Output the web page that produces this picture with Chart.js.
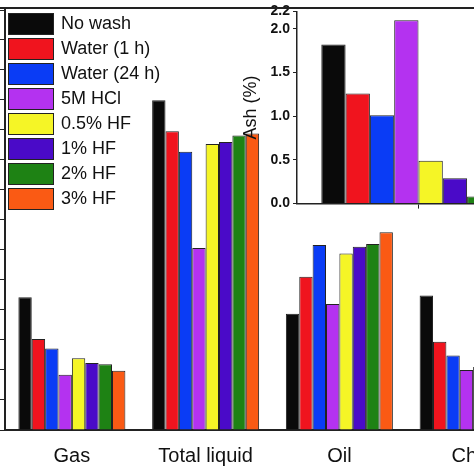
<!DOCTYPE html>
<html>
<head>
<script src="https://cdn.jsdelivr.net/npm/chart.js@4"></script>
<style>
  body { margin: 0; width: 474px; height: 474px; overflow: hidden; background: #fff; font-family: "Liberation Sans", Arial, sans-serif; position: relative; }
  #main { position: absolute; left: 0; top: 0; }
  #inset { position: absolute; left: 240px; top: 0; }
  #topline { position: absolute; left: 0; top: 7px; width: 474px; height: 2px; background: #222; }
  #legend { position: absolute; left: 8px; top: 11px; }
  .item { display: flex; align-items: center; height: 25px; font-size: 18px; color: #111; }
  .box { width: 44px; height: 20px; border: 1px solid #222; margin-right: 7px; }
</style>
</head>
<body>
<canvas id="main" width="540" height="474" style="width:540px;height:474px"></canvas>
<canvas id="inset" width="300" height="215" style="width:300px;height:215px"></canvas>
<div id="topline"></div>
<div id="legend"></div>
<script>
const categories = ["Gas", "Total liquid", "Oil", "Char"];
const treatments = ["No wash", "Water (1 h)", "Water (24 h)", "5M HCl", "0.5% HF", "1% HF", "2% HF", "3% HF"];
const colors = ["#0a0a0a", "#f0141e", "#0a3cf5", "#b432f0", "#f5f526", "#4a0ac8", "#1e8214", "#fa5a14"];
// yield values per treatment (in tick units), order: Gas, Total liquid, Oil, Char
const noWash = [4.42, 10.97, 3.87, 4.48];
const water1h = [3.03, 9.94, 5.10, 2.94];
const water24h = [2.71, 9.26, 6.16, 2.48];
const hcl5M = [1.84, 6.06, 4.19, 2.00];
const hf05 = [2.39, 9.52, 5.87, 2.10];
const hf1 = [2.23, 9.58, 6.10, 2.19];
const hf2 = [2.19, 9.80, 6.19, 2.05];
const hf3 = [1.97, 9.87, 6.58, 1.95];
const series = [noWash, water1h, water24h, hcl5M, hf05, hf1, hf2, hf3];
// ash content (%)
const ash = [1.82, 1.26, 1.01, 2.10, 0.49, 0.29, 0.08, 0.03];

const legend = document.getElementById("legend");
treatments.forEach((t, i) => {
  legend.innerHTML += `<div class="item"><div class="box" style="background:${colors[i]}"></div>${t}</div>`;
});

new Chart(document.getElementById("main"), {
  type: "bar",
  data: {
    labels: categories,
    datasets: series.map((d, i) => ({
      label: treatments[i], data: d, backgroundColor: colors[i],
      borderColor: "#222", borderWidth: 1, categoryPercentage: 0.8, barPercentage: 1,
    })),
  },
  options: {
    responsive: false, animation: false,
    layout: { padding: { top: 8 } },
    plugins: { legend: { display: false }, tooltip: { enabled: false } },
    scales: {
      x: {
        grid: { display: false },
        border: { color: "#222", width: 2 },
        ticks: { color: "#111", font: { size: 20, family: "Liberation Sans" }, padding: 6 },
      },
      y: {
        min: 0, max: 13.97,
        afterFit: (s) => { s.width = 5; },
        grid: { drawOnChartArea: false, tickLength: 5, color: "#222" },
        border: { color: "#222", width: 2 },
        ticks: { stepSize: 1, callback: () => "" },
      },
    },
  },
});

new Chart(document.getElementById("inset"), {
  type: "bar",
  data: {
    labels: ["Ash"],
    datasets: ash.map((v, i) => ({
      label: treatments[i], data: [v], backgroundColor: colors[i],
      borderColor: "#222", borderWidth: 1, categoryPercentage: 0.8, barPercentage: 1,
    })),
  },
  options: {
    responsive: false, animation: false,
    layout: { padding: { top: 8 } },
    plugins: { legend: { display: false }, tooltip: { enabled: false } },
    scales: {
      x: {
        afterFit: (s) => { s.height = 11; },
        grid: { drawOnChartArea: false, offset: false, tickLength: 5, color: "#222" },
        border: { color: "#222", width: 1.5 },
        ticks: { callback: () => "" },
      },
      y: {
        min: 0, max: 2.2,
        afterFit: (s) => { s.width = 57; },
        grid: { drawOnChartArea: false, tickLength: 4, color: "#222" },
        border: { color: "#222", width: 1.5 },
        title: { display: true, text: "Ash (%)", color: "#111", font: { size: 18, family: "Liberation Sans" }, padding: 0 },
        ticks: {
          stepSize: 0.5, color: "#111", padding: 3,
          font: { size: 14, weight: "bold", family: "Liberation Sans" },
          callback: (v) => v.toFixed(1),
        },
      },
    },
  },
  plugins: [{
    id: "whiteArea",
    beforeDraw(c) {
      const a = c.chartArea;
      c.ctx.save();
      c.ctx.fillStyle = "#fff";
      c.ctx.fillRect(a.left, 0, a.right - a.left, a.bottom + 1);
      c.ctx.restore();
    },
  }],
});
</script>
</body>
</html>
